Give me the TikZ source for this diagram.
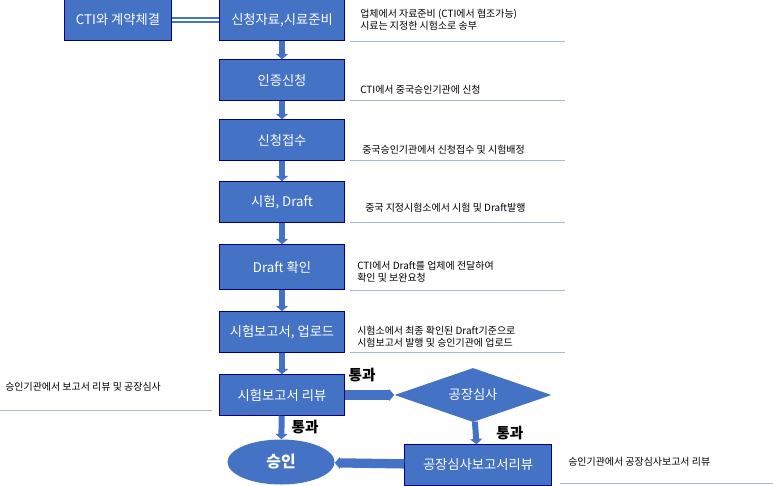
\documentclass[tikz,border=0pt]{standalone}
\usepackage{fontspec}
\setmainfont{Noto Sans CJK KR}
\usetikzlibrary{shapes.geometric,arrows.meta,positioning}
\definecolor{boxblue}{HTML}{4472C4}
\definecolor{rulegray}{HTML}{A9B8D6}

\begin{document}
\begin{tikzpicture}[
    x=0.02646cm, y=-0.02646cm,
    stepbox/.style={rectangle, draw=blue!50!black, fill=boxblue, text=white, font=\fontsize{10}{12}\selectfont, minimum width=125*0.02646cm, minimum height=41*0.02646cm, inner sep=1pt},
    note/.style={anchor=west, align=left, font=\fontsize{7.5}{9}\selectfont, inner sep=0pt},
    flow/.style={-{Triangle[length=4pt,width=9pt]}, line width=4.5pt, draw=boxblue},
    pass/.style={font=\bfseries\fontsize{11}{12}\selectfont},
    rule/.style={draw=rulegray, line width=0.6pt}
]
\useasboundingbox (0,0) rectangle (773,485);

% main flow
\node[stepbox, minimum width=107*0.02646cm] (contract) at (118,20) {CTI와 계약체결};
\node[stepbox] (prep) at (282,20) {신청자료,시료준비};
\node[stepbox] (apply) at (282,80) {인증신청};
\node[stepbox] (receive) at (282,140) {신청접수};
\node[stepbox] (test) at (282,202) {시험, Draft};
\node[stepbox, minimum height=45*0.02646cm] (draft) at (282,267) {Draft 확인};
\node[stepbox] (upload) at (282,332) {시험보고서, 업로드};
\node[stepbox] (review) at (282,395) {시험보고서 리뷰};
\node[diamond, fill=boxblue, text=white, aspect=2.9, minimum width=157*0.02646cm, minimum height=54*0.02646cm, inner sep=0pt, font=\fontsize{10}{12}\selectfont] (audit) at (473,395) {공장심사};
\node[stepbox, minimum width=147*0.02646cm] (auditrev) at (478,465) {공장심사보고서리뷰};
\node[ellipse, fill=boxblue, text=white, minimum width=107*0.02646cm, minimum height=45*0.02646cm, font=\bfseries\fontsize{12}{14}\selectfont] (ok) at (281,462) {승인};

% connectors
\draw[boxblue, line width=4.5pt] (contract) -- (prep);
\draw[white, line width=1.5pt] (contract) -- (prep);
\draw[flow] (prep) -- (apply);
\draw[flow] (apply) -- (receive);
\draw[flow] (receive) -- (test);
\draw[flow] (test) -- (draft);
\draw[flow] (draft) -- (upload);
\draw[flow] (upload) -- (review);
\draw[flow, line width=7pt] (review) -- (audit) node[pass, pos=0.35, above=3pt, black] {통과};
\draw[flow] (review) -- (ok) node[pass, midway, right=2pt, black] {통과};
\draw[flow] (audit) -- (auditrev) node[pass, midway, right=10pt, black] {통과};
\draw[flow, line width=7pt] (auditrev) -- (ok);

% notes
\node[note] (n1) at (360,20) {업체에서 자료준비 (CTI에서 협조가능)\\시료는 지정한 시험소로 송부};
\node[note] (n2) at (360,90) {CTI에서 중국승인기관에 신청};
\node[note] (n3) at (362,150) {중국승인기관에서 신청접수 및 시험배정};
\node[note] (n4) at (365,208) {중국 지정시험소에서 시험 및 Draft발행};
\node[note] (n5) at (357,272) {CTI에서 Draft를 업체에 전달하여\\확인 및 보완요청};
\node[note] (n6) at (357,337) {시험소에서 최종 확인된 Draft기준으로\\시험보고서 발행 및 승인기관에 업로드};
\node[note] (n7) at (5,387) {승인기관에서 보고서 리뷰 및 공장심사};
\node[note] (n8) at (568,462) {승인기관에서 공장심사보고서 리뷰};
\foreach \yy in {41,100,160,222,290,352}
  \draw[rule] (350,\yy) -- (565,\yy);
\draw[rule] (0,410) -- (212,410);
\draw[rule] (560,483) -- (773,483);
\end{tikzpicture}
\end{document}
